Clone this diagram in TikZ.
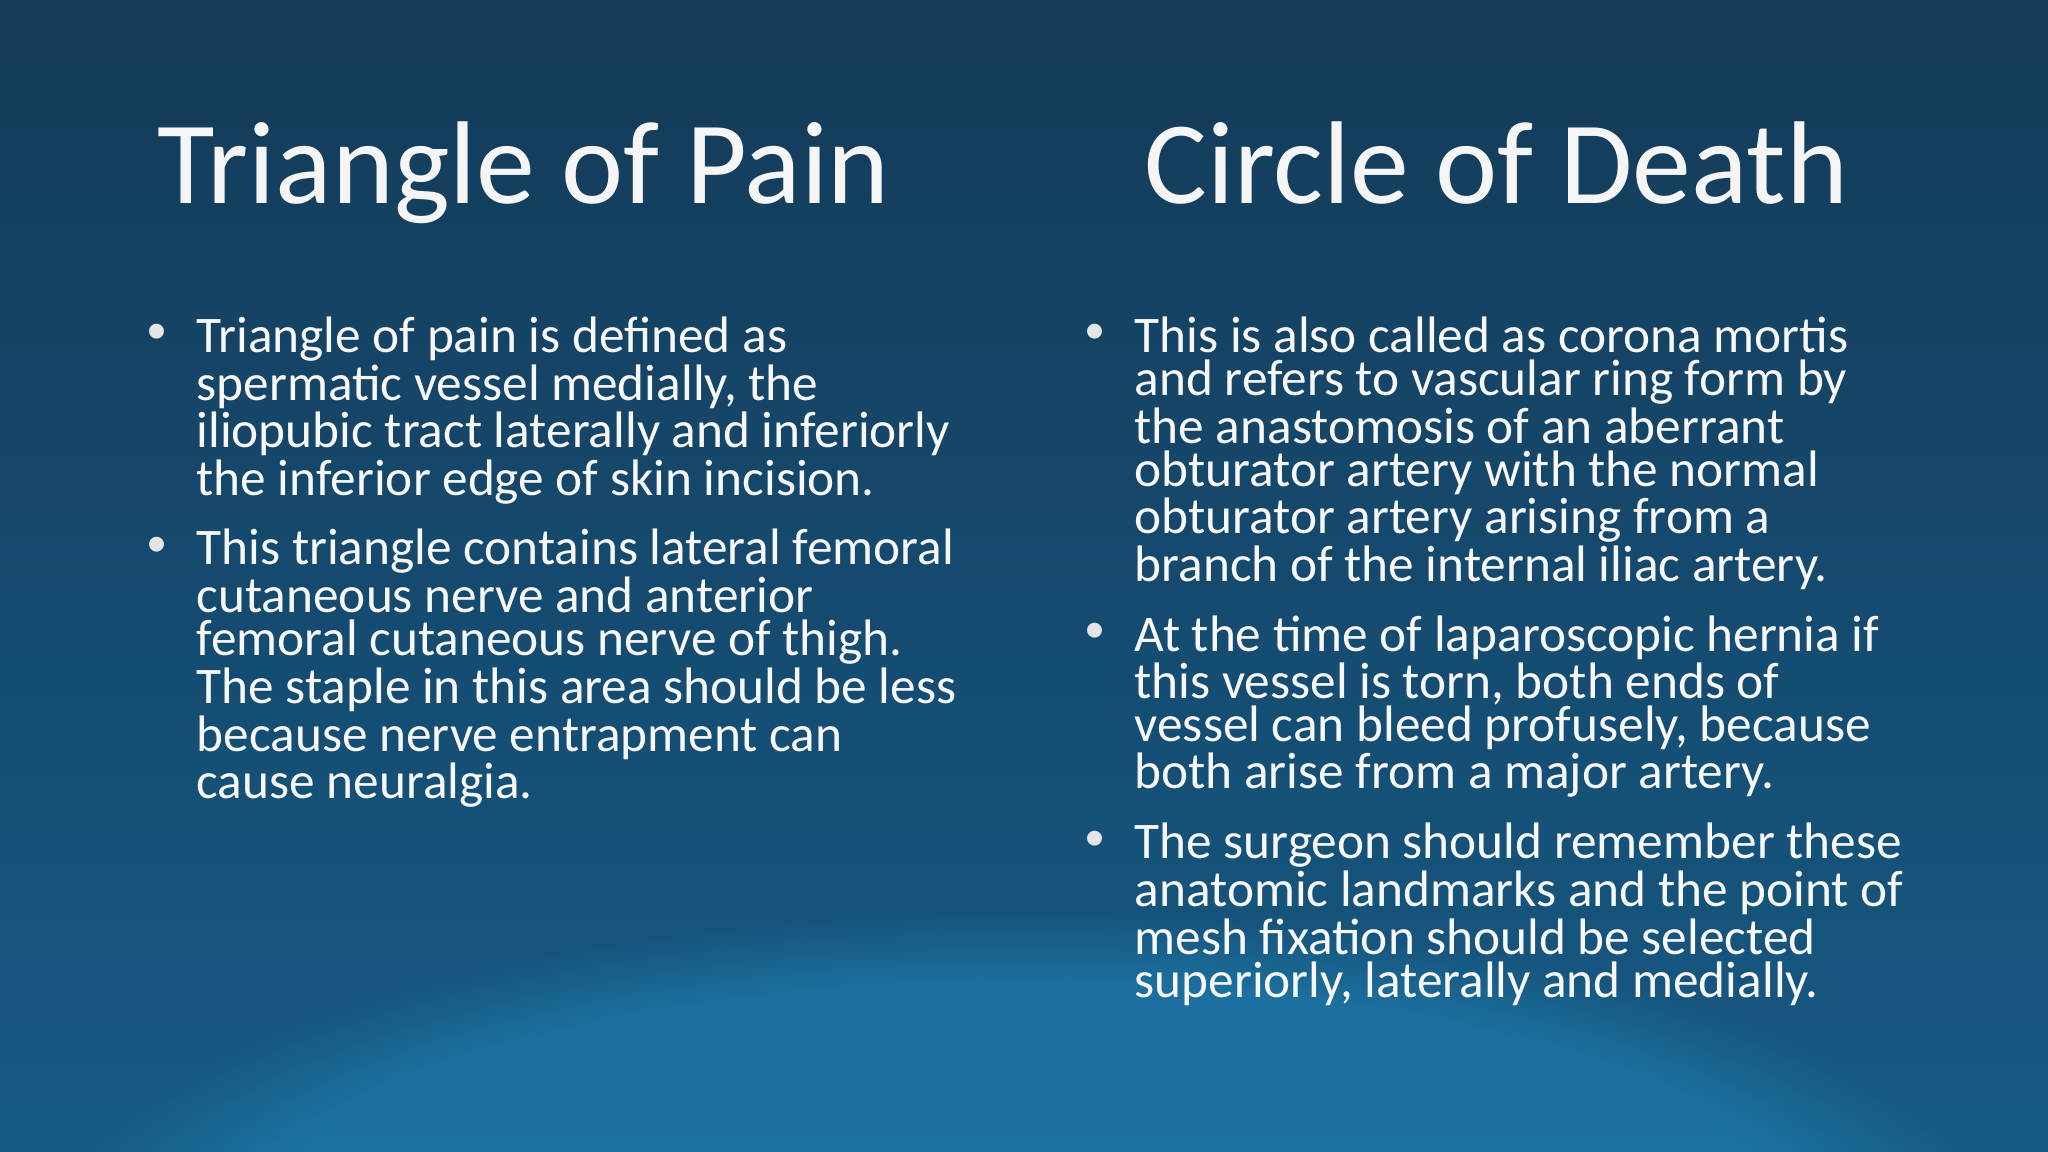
\documentclass[tikz,border=0pt]{standalone}
\usepackage{fontspec}
\setmainfont{Carlito}
\usetikzlibrary{positioning,fadings}
\tikzset{
  slidetitle/.style={anchor=base west,text=white!92!gray,font=\fontsize{33.5}{33}\selectfont,inner sep=0pt},
  bulletpt/.style={anchor=north west,text=white!94!gray,align=left,inner sep=0pt,
    font=\fontsize{14.6}{12.25}\selectfont},
  dotmark/.style={anchor=north east,text=white!80!gray,inner sep=0pt,font=\fontsize{12}{12}\selectfont}
}
\definecolor{slidetop}{RGB}{20,58,88}
\definecolor{slidebot}{RGB}{22,90,132}
\definecolor{slideglow}{RGB}{32,130,182}
\begin{document}
\begin{tikzpicture}
    \clip (0,0) rectangle (20.48,11.52);
    \shade[top color=slidetop,bottom color=slidebot] (0,0) rectangle (20.48,11.52);
    \fill[slideglow,path fading=circle with fuzzy edge 20 percent,opacity=0.6]
        (10.24,-1.2) ellipse (10 and 3.6);

    % titles
    \node[slidetitle] (painT) at (1.57,9.48) {Triangle of Pain};
    \node[slidetitle] (deathT) at (11.44,9.48) {Circle of Death};

    % left column
    \node[bulletpt] (pain1) at (1.96,8.36) {Triangle of pain is defined as\\spermatic vessel medially, the\\iliopubic tract laterally and inferiorly\\the inferior edge of skin incision.};
    \node[bulletpt,below=0.24 of pain1.south west,anchor=north west] (pain2) {This triangle contains lateral femoral\\cutaneous nerve and anterior\\femoral cutaneous nerve of thigh.\\The staple in this area should be less\\because nerve entrapment can\\cause neuralgia.};

    % right column
    \node[bulletpt] (death1) at (11.34,8.36) {This is also called as corona mortis\\and refers to vascular ring form by\\the anastomosis of an aberrant\\obturator artery with the normal\\obturator artery arising from a\\branch of the internal iliac artery.};
    \node[bulletpt,below=0.24 of death1.south west,anchor=north west] (death2) {At the time of laparoscopic hernia if\\this vessel is torn, both ends of\\vessel can bleed profusely, because\\both arise from a major artery.};
    \node[bulletpt,below=0.24 of death2.south west,anchor=north west] (death3) {The surgeon should remember these\\anatomic landmarks and the point of\\mesh fixation should be selected\\superiorly, laterally and medially.};

    \foreach \b in {pain1,pain2,death1,death2,death3}
        \node[dotmark] at ([xshift=-0.28cm,yshift=-0.08cm]\b.north west) {•};
\end{tikzpicture}
\end{document}
